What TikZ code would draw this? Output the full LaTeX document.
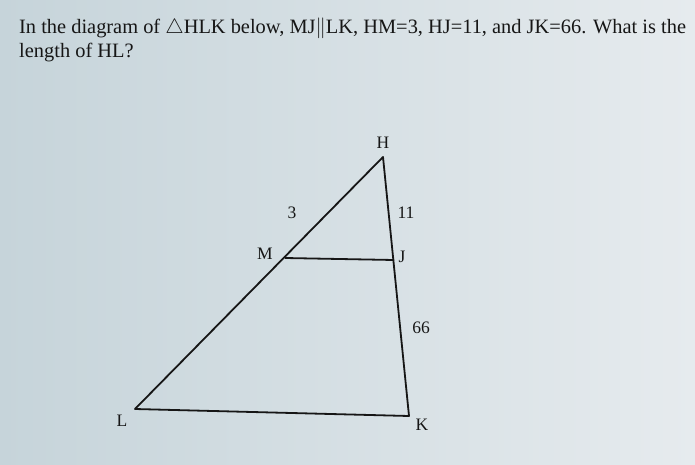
\documentclass[tikz,border=0pt]{standalone}
\usepackage{fontspec}
\setmainfont{Liberation Serif}
\usepackage{amssymb}
\definecolor{bgleft}{RGB}{198,212,218}
\definecolor{bgright}{RGB}{230,235,238}
\definecolor{ink}{RGB}{22,22,22}
\tikzset{
  edge/.style={draw=ink, line width=1.8pt, line join=round},
  lbl/.style={font=\fontsize{17.5}{17.5}\selectfont, text=ink, inner sep=1pt},
  question/.style={font=\fontsize{20.4}{24}\selectfont, text=ink, anchor=base west, inner sep=0pt}
}
\begin{document}
\begin{tikzpicture}[x=1pt,y=-1pt]
\shade[left color=bgleft, right color=bgright] (0,0) rectangle (695,465);
\useasboundingbox (0,0) rectangle (695,465);
\node[question] (q1) at (19,34) {In the diagram of $\triangle$HLK below, MJ$\|$LK, HM=3, HJ=11, and JK=66. What is the};
\node[question] (q2) at (19,58) {length of HL?};
\coordinate (H) at (383,157);
\coordinate (M) at (285,258);
\coordinate (J) at (394,260);
\coordinate (L) at (135,409);
\coordinate (K) at (409,416);
\draw[edge] (H) -- (L) -- (K) -- cycle;
\draw[edge] (M) -- (J);
\node[lbl] (lH) at (383,143) {H};
\node[lbl] (lM) at (265,254) {M};
\node[lbl] (lJ) at (402,257) {J};
\node[lbl] (lL) at (122,421) {L};
\node[lbl] (lK) at (422,425) {K};
\node[lbl] (l3) at (292,213) {3};
\node[lbl] (l11) at (406,213) {11};
\node[lbl] (l66) at (421,328) {66};
\end{tikzpicture}
\end{document}
